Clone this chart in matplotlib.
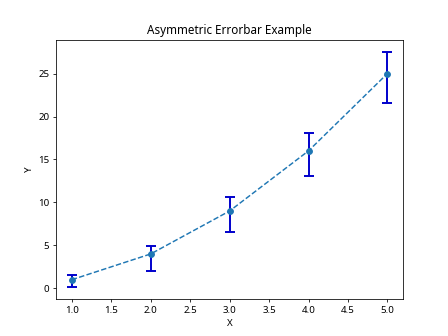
import matplotlib
matplotlib.use("Agg")
import matplotlib.pyplot as plt
import numpy as np

plt.rcParams['font.family'] = ['Noto Sans', 'DejaVu Sans']

x = [1, 2, 3, 4, 5]
y = [1, 4, 9, 16, 25]
lower_error = [0.88, 2.0, 2.5, 2.95, 3.4]
upper_error = [0.6, 0.95, 1.6, 2.1, 2.5]

fig, ax = plt.subplots(figsize=(6.4, 4.8), dpi=70)
ax.errorbar(x, y, yerr=[lower_error, upper_error], fmt='o--', ecolor='#0000cc',
            elinewidth=2, capsize=5, capthick=2)
ax.set_title('Asymmetric Errorbar Example')
ax.set_xlabel('X')
ax.set_ylabel('Y')
fig.savefig('out.png', dpi=70)
